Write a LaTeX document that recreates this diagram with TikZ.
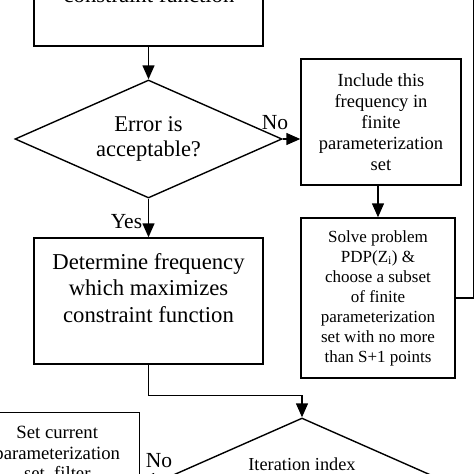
\documentclass[tikz,border=0pt]{standalone}
\usepackage{fontspec}
\setmainfont{Liberation Serif}
\usetikzlibrary{arrows.meta,shapes.geometric}
\begin{document}
\begin{tikzpicture}[x=1pt,y=-1pt, line width=1.4pt,
  box/.style={draw, rectangle, inner sep=0pt, align=center},
  dia/.style={draw, diamond, inner sep=0pt, aspect=2.26},
  arr/.style={-{Triangle[length=14pt,width=12pt]}},
  lbl/.style={font=\fontsize{21.5}{24}\selectfont, inner sep=0pt, anchor=base}]
\useasboundingbox (0,0) rectangle (474,474);
% boxes
\node[box, minimum width=229pt, minimum height=126pt] (top) at (148.5,-17) {};
\node[font=\fontsize{22.7}{26.5}\selectfont, inner sep=0pt, anchor=base] (toptext) at (149,2.5) {constraint function};
\node[dia, minimum width=267pt, minimum height=118pt, align=center, font=\fontsize{22.5}{25.7}\selectfont] (err) at (148.5,139) {Error is\\acceptable?};
\node[box, minimum width=160pt, minimum height=126pt, font=\fontsize{18.5}{21}\selectfont] (incl) at (381,122) {Include this\\frequency in\\finite\\parameterization\\set};
\node[box, minimum width=154pt, minimum height=160pt, font=\fontsize{17}{20}\selectfont] (solve) at (378,298) {Solve problem\\PDP(Z\textsubscript{i}) \&\\choose a subset\\of finite\\parameterization\\set with no more\\than S+1 points};
\node[box, minimum width=229pt, minimum height=126pt, font=\fontsize{22.7}{26.5}\selectfont] (det) at (148.5,301) {Determine frequency\\which maximizes\\constraint function\\\mbox{}};
\node[box, minimum width=164.5pt, minimum height=84.5pt, font=\fontsize{18.7}{20.5}\selectfont] (setc) at (57.25,454.5) {Set current\\parameterization\\set, filter};
\node[dia, minimum width=276pt, minimum height=122pt] (iter) at (302,479) {};
\node[font=\fontsize{18.3}{21}\selectfont, inner sep=0pt, anchor=base] (itertext) at (302,470) {Iteration index};
% labels
\node[lbl] (no1) at (275,129) {No};
\node[lbl] (yes) at (126.5,228) {Yes};
\node[lbl] (no2) at (159,467) {No};
% connectors
\coordinate (bend) at (148.5,395.7);
\coordinate (loopa) at (473.8,298);
\coordinate (loopb) at (473.8,-20);
\draw[arr] (top.south) -- (err.north);
\draw[arr] (err.east) -- (err.east -| incl.west);
\draw[arr] (solve.north |- incl.south) -- (solve.north);
\draw[arr] (err.south) -- (det.north);
\draw (solve.east) -- (loopa) -- (loopb);
\draw[arr] (det.south) -- (bend) -| (iter.north);
\draw[arr] (iter.west) -- (iter.west -| setc.east);
\end{tikzpicture}
\end{document}
